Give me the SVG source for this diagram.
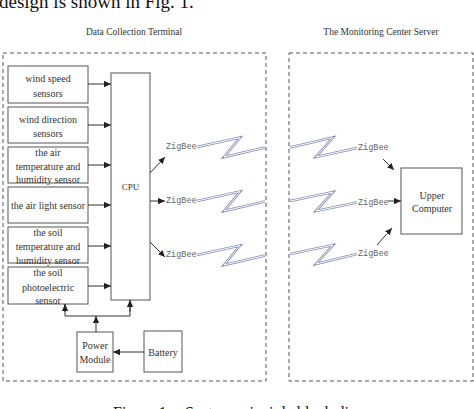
<svg xmlns="http://www.w3.org/2000/svg" width="474" height="409" viewBox="0 0 474 409">
<defs>
<style>
.bx{fill:#fff;stroke:#555;stroke-width:1}
.ds{fill:none;stroke:#555;stroke-width:1;stroke-dasharray:4 3}
.t{font-family:"Liberation Serif","Times New Roman",serif;font-size:10px;fill:#333;text-anchor:middle;dominant-baseline:central}
.z{font-family:"Liberation Mono","Courier New",monospace;font-size:8.5px;fill:#666;dominant-baseline:central}
.cap{font-family:"Liberation Serif","Times New Roman",serif;font-size:16px;fill:#111}
.ln{fill:none;stroke:#333;stroke-width:1}
.bo{fill:none;stroke:#8590b5;stroke-width:2.6;stroke-linejoin:miter}
.bi{fill:none;stroke:#fff;stroke-width:1;stroke-linejoin:miter}
</style>
<marker id="ah" viewBox="0 0 10 10" refX="10" refY="5" markerWidth="7" markerHeight="7" markerUnits="userSpaceOnUse" orient="auto">
<path d="M0,0.5 L10,5 L0,9.5 Z" fill="#222"/>
</marker>
</defs>
<rect width="474" height="409" fill="#fff"/>
<text class="cap" x="-1" y="8" style="font-size:19px">design is shown in Fig. 1.</text>
<text class="cap" x="113" y="418">Figure 1.</text>
<text class="cap" x="185" y="418">System principle block diagram</text>
<g id="terminal">
<rect class="ds" x="3" y="53" width="263" height="328"/>
<text class="t" x="134" y="32" style="font-size:9.5px">Data Collection Terminal</text>
</g>
<g id="server">
<rect class="ds" x="289" y="53" width="184" height="328"/>
<text class="t" x="381" y="32" style="font-size:9.5px">The Monitoring Center Server</text>
</g>
<g id="s1"><rect class="bx" x="8" y="66" width="80" height="37"/><text class="t" x="48" y="78">wind speed</text><text class="t" x="48" y="93">sensors</text></g>
<g id="s2"><rect class="bx" x="8" y="107" width="80" height="36"/><text class="t" x="48" y="119">wind direction</text><text class="t" x="48" y="133">sensors</text></g>
<g id="s3"><rect class="bx" x="8" y="147" width="80" height="36"/><text class="t" x="48" y="152">the air</text><text class="t" x="48" y="166">temperature and</text><text class="t" x="48" y="179">humidity sensor</text></g>
<g id="s4"><rect class="bx" x="8" y="187" width="80" height="36"/><text class="t" x="48" y="205">the air light sensor</text></g>
<g id="s5"><rect class="bx" x="8" y="227" width="80" height="36"/><text class="t" x="48" y="232">the soil</text><text class="t" x="48" y="246">temperature and</text><text class="t" x="48" y="260">humidity sensor</text></g>
<g id="s6"><rect class="bx" x="8" y="267" width="80" height="37"/><text class="t" x="48" y="272">the soil</text><text class="t" x="48" y="287">photoelectric</text><text class="t" x="48" y="300">sensor</text></g>
<g id="cpu"><rect class="bx" x="111" y="73" width="39" height="227"/><text class="t" x="130.5" y="187" style="font-size:9px">CPU</text></g>
<g id="power"><rect class="bx" x="77" y="332" width="36" height="40"/><text class="t" x="95" y="345">Power</text><text class="t" x="95" y="359">Module</text></g>
<g id="battery"><rect class="bx" x="144" y="331" width="38" height="41"/><text class="t" x="163" y="352">Battery</text></g>
<g id="upper"><rect class="bx" x="401" y="168" width="61" height="66"/><text class="t" x="432" y="195">Upper</text><text class="t" x="432" y="208">Computer</text></g>
<g id="zb-left">
<text class="z" x="166" y="147">ZigBee</text>
<text class="z" x="166" y="201">ZigBee</text>
<text class="z" x="166" y="255">ZigBee</text>
</g>
<g id="zb-right">
<text class="z" x="358" y="148">ZigBee</text>
<text class="z" x="358" y="203">ZigBee</text>
<text class="z" x="358" y="254">ZigBee</text>
</g>
<g id="links">
<g id="bolt1">
<polyline class="bo" points="197,147 240,137.5 224,157 265,147.5"/>
<polyline class="bi" points="197,147 240,137.5 224,157 265,147.5"/>
<polyline class="bo" points="290,147.5 333,137.5 316,157 357,148"/>
<polyline class="bi" points="290,147.5 333,137.5 316,157 357,148"/>
</g>
<g id="bolt2">
<polyline class="bo" points="197,201 240,191.5 224,211 265,201.5"/>
<polyline class="bi" points="197,201 240,191.5 224,211 265,201.5"/>
<polyline class="bo" points="290,201 333,192 316,211 357,202.5"/>
<polyline class="bi" points="290,201 333,192 316,211 357,202.5"/>
</g>
<g id="bolt3">
<polyline class="bo" points="197,255 240,245.5 224,265 265,255.5"/>
<polyline class="bi" points="197,255 240,245.5 224,265 265,255.5"/>
<polyline class="bo" points="290,254 333,245 316,264 357,254"/>
<polyline class="bi" points="290,254 333,245 316,264 357,254"/>
</g>
</g>
<g id="connectors">
<line class="ln" x1="88" y1="84" x2="111" y2="84" marker-end="url(#ah)"/>
<line class="ln" x1="88" y1="125" x2="111" y2="125" marker-end="url(#ah)"/>
<line class="ln" x1="88" y1="165" x2="111" y2="165" marker-end="url(#ah)"/>
<line class="ln" x1="88" y1="205" x2="111" y2="205" marker-end="url(#ah)"/>
<line class="ln" x1="88" y1="246" x2="111" y2="246" marker-end="url(#ah)"/>
<line class="ln" x1="88" y1="286" x2="111" y2="286" marker-end="url(#ah)"/>
<line class="ln" x1="150" y1="173" x2="165" y2="157" marker-end="url(#ah)"/>
<line class="ln" x1="150" y1="201" x2="165" y2="201" marker-end="url(#ah)"/>
<line class="ln" x1="150" y1="242" x2="165" y2="257" marker-end="url(#ah)"/>
<line class="ln" x1="383" y1="159" x2="394" y2="170" marker-end="url(#ah)"/>
<line class="ln" x1="388" y1="201" x2="401" y2="201" marker-end="url(#ah)"/>
<line class="ln" x1="377" y1="245" x2="392" y2="228" marker-end="url(#ah)"/>
<polyline class="ln" points="65,304 65,316 130,316 130,300"/>
<line class="ln" x1="65" y1="312" x2="65" y2="304" marker-end="url(#ah)"/>
<line class="ln" x1="130" y1="312" x2="130" y2="300" marker-end="url(#ah)"/>
<line class="ln" x1="96" y1="332" x2="96" y2="316" marker-end="url(#ah)"/>
<line class="ln" x1="144" y1="352" x2="113" y2="352" marker-end="url(#ah)"/>
</g>
</svg>
